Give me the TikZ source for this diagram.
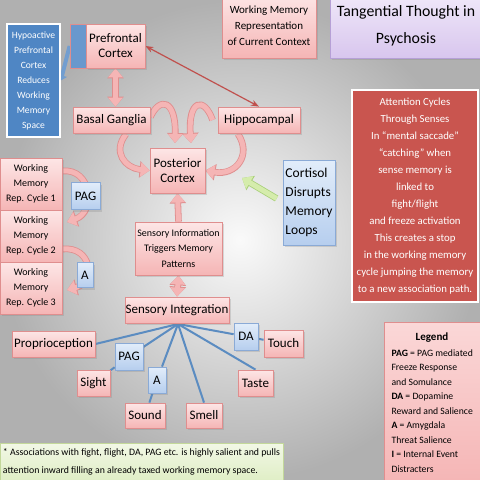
\documentclass[tikz,border=0pt]{standalone}
\usepackage{fontspec}
\setmainfont{Carlito}
\usetikzlibrary{arrows.meta,shadows}

\definecolor{pinkA}{HTML}{FDE6E6}
\definecolor{pinkB}{HTML}{F5B5B5}
\definecolor{pinkbd}{HTML}{DF8E8E}
\definecolor{blueA}{HTML}{E2EDFA}
\definecolor{blueB}{HTML}{B6CEEE}
\definecolor{bluebd}{HTML}{8AAAD6}
\definecolor{deepblue}{HTML}{4F86C4}
\definecolor{redbox}{HTML}{C9554F}
\definecolor{lilacA}{HTML}{F0E8F9}
\definecolor{lilacB}{HTML}{D8C6EE}
\definecolor{lilacbd}{HTML}{B6A0D6}
\definecolor{greenA}{HTML}{F2F8E6}
\definecolor{greenB}{HTML}{E0EEC6}
\definecolor{greenbd}{HTML}{C3D89A}
\definecolor{linkblue}{HTML}{5B8CC1}
\definecolor{redline}{HTML}{C0504D}
\definecolor{cortgreen}{HTML}{D5ECAC}
\definecolor{cortgreenbd}{HTML}{A9D07A}

\pgfdeclarelayer{bg}
\pgfdeclarelayer{links}
\pgfsetlayers{bg,links,main}

\begin{document}
\begin{tikzpicture}[x=1pt, y=-1pt,
  pinkbox/.style={draw=pinkbd, line width=0.8pt, top color=pinkA, bottom color=pinkB,
    align=center, inner sep=0pt, font=\fontsize{13}{15}\selectfont, drop shadow={opacity=0.25}},
  smallpink/.style={pinkbox, font=\fontsize{10}{15}\selectfont},
  bluebox/.style={draw=bluebd, line width=0.8pt, top color=blueA, bottom color=blueB,
    align=center, inner sep=0pt, font=\fontsize{13}{15}\selectfont, drop shadow={opacity=0.25}},
  whitetext/.style={draw=white, line width=1.6pt, text=white, align=center, inner sep=0pt},
  fatarr/.style={line width=5pt, draw=pinkB, -{Triangle[length=9pt,width=14pt]},
    preaction={draw=pinkbd, line width=6.6pt, -{Triangle[length=10pt,width=16pt]}}},
  fatboth/.style={line width=5pt, draw=pinkB, {Triangle[length=9pt,width=14pt]}-{Triangle[length=9pt,width=14pt]},
    preaction={draw=pinkbd, line width=6.6pt, {Triangle[length=10pt,width=16pt]}-{Triangle[length=10pt,width=16pt]}}},
  link/.style={draw=linkblue, line width=2pt}
]
% background
\begin{pgfonlayer}{bg}
\shade[inner color=gray!4, outer color=gray!62] (0,0) rectangle (480,480);
\end{pgfonlayer}
\useasboundingbox (0,0) rectangle (480,480);

% top row
\node[whitetext, fill=deepblue, minimum width=53, minimum height=113,
  font=\fontsize{9.6}{15}\selectfont] (hypo) at (33.5,80.5)
  {Hypoactive\\Prefrontal\\Cortex\\Reduces\\Working\\Memory\\Space};
\node[pinkbox, minimum width=59, minimum height=44] (pfc) at (115.5,46) {Prefrontal\\Cortex};
\node[draw=pinkbd, line width=0.8pt, fill=deepblue!85, minimum width=16, minimum height=44,
  inner sep=0pt] (pfcbar) at (78,46) {};
\node[pinkbox, minimum width=94, minimum height=64, font=\fontsize{11}{16}\selectfont] (wmctx) at (269,26)
  {Working Memory\\Representation\\of Current Context};
\node[draw=lilacbd, line width=0.8pt, top color=lilacA, bottom color=lilacB, align=center,
  inner sep=0pt, minimum width=152, minimum height=64, font=\fontsize{15.8}{27}\selectfont,
  drop shadow={opacity=0.25}] (title) at (406,26) {Tangential Thought in\\Psychosis};

% brain regions
\node[pinkbox, minimum width=77, minimum height=26] (basal) at (111.5,120) {Basal Ganglia};
\node[pinkbox, minimum width=82, minimum height=26] (hippo) at (259,120) {Hippocampal};
\node[pinkbox, minimum width=55, minimum height=45] (post) at (177.5,170.5) {Posterior\\Cortex};
\node[bluebox, minimum width=52, minimum height=85, font=\fontsize{13.5}{19}\selectfont,
  align=left] (cortisol) at (309,202.5) {Cortisol\\Disrupts\\Memory\\Loops};
\node[whitetext, fill=redbox, line width=1.2pt, minimum width=126, minimum height=212,
  font=\fontsize{10.8}{17}\selectfont] (attn) at (415,196)
  {Attention Cycles\\Through Senses\\In “mental saccade”\\“catching” when\\sense memory is\\linked to\\fight/flight\\and freeze activation\\This creates a stop\\in the working memory\\cycle jumping the memory\\to a new association path.};

% working memory cycles
\node[smallpink, minimum width=62, minimum height=52] (cyc1) at (31,184) {Working\\Memory\\Rep. Cycle 1};
\node[smallpink, minimum width=62, minimum height=52] (cyc2) at (31,236) {Working\\Memory\\Rep. Cycle 2};
\node[smallpink, minimum width=62, minimum height=52] (cyc3) at (31,288) {Working\\Memory\\Rep. Cycle 3};
\node[bluebox, minimum width=29, minimum height=27] (pag1) at (85.5,196) {PAG};
\node[bluebox, minimum width=16, minimum height=25] (a1) at (85,275) {A};

% sensory part
\node[pinkbox, minimum width=87, minimum height=53, font=\fontsize{10}{15.5}\selectfont] (sensinfo) at (178.5,248.5)
  {Sensory Information\\Triggers Memory\\Patterns};
\node[pinkbox, minimum width=104, minimum height=26] (sensint) at (177,310) {Sensory Integration};
\coordinate (hub) at (178,324);
\node[pinkbox, minimum width=83, minimum height=26] (proprio) at (53.5,344) {Proprioception};
\node[bluebox, minimum width=28, minimum height=27] (pag2) at (129,356.5) {PAG};
\node[pinkbox, minimum width=33, minimum height=26] (sight) at (93.5,383) {Sight};
\node[bluebox, minimum width=18, minimum height=26] (a2) at (157,380) {A};
\node[pinkbox, minimum width=40, minimum height=25] (sound) at (145,415.5) {Sound};
\node[pinkbox, minimum width=36, minimum height=25] (smell) at (204,415.5) {Smell};
\node[pinkbox, minimum width=35, minimum height=26] (taste) at (255.5,383) {Taste};
\node[bluebox, minimum width=24, minimum height=27] (da) at (246,336.5) {DA};
\node[pinkbox, minimum width=39, minimum height=27] (touch) at (283.5,343.5) {Touch};

% notes
\node[draw=greenbd, line width=0.8pt, top color=greenA, bottom color=greenB, align=left,
  inner sep=0pt, minimum width=283, minimum height=37, font=\fontsize{9.8}{18}\selectfont] (note) at (141.5,461.5)
  {* Associations with fight, flight, DA, PAG etc. is highly salient and pulls\\attention inward filling an already taxed working memory space.};
\node[draw=pinkbd, line width=0.8pt, top color=pinkA!70!pinkB, bottom color=pinkB, inner sep=0pt,
  minimum width=96, minimum height=163, drop shadow={opacity=0.25}] (legend) at (432,403.5) {};
\node[align=left, font=\fontsize{9.7}{14.5}\selectfont, anchor=north west] (legtext) at (388,346)
  {\textbf{PAG} = PAG mediated\\Freeze Response\\and Somulance\\\textbf{DA} = Dopamine\\Reward and Salience\\\textbf{A} = Amygdala\\Threat Salience\\\textbf{I} = Internal Event\\Distracters};
\node[font=\fontsize{11}{13}\bfseries] (legtitle) at (432,338) {Legend};

% connectors, kept under the boxes
\begin{pgfonlayer}{links}
\draw[fatboth] (pfc.south) -- (basal.north -| pfc.south);
\draw[fatarr] (sensinfo.north) -- (post.south);
\draw[fatboth] (sensinfo.south) -- (sensint.north);
\draw[fatarr] (basal.east) ++(0,-3) .. controls (160,96) and (176,100) .. (175,143);
\draw[fatarr] (hippo.west) ++(-5,0) .. controls (204,96) and (188,100) .. (191,143);
\draw[fatarr] (126,134) .. controls (112,152) and (125,168) .. (post.west);
\draw[fatarr] (238,134) .. controls (252,155) and (236,176) .. (post.east);
\draw[fatarr] (cyc1.east) ++(0,-13) .. controls (92,168) and (96,212) .. (67,222);
\draw[fatarr] (cyc2.east) ++(0,13) .. controls (92,246) and (96,282) .. (67,290);
\draw[line width=5pt, draw=cortgreen, -{Triangle[length=9pt,width=14pt]},
  preaction={draw=cortgreenbd, line width=6.6pt, -{Triangle[length=10pt,width=16pt]}}]
  (cortisol.west) ++(-6,-4) -- (242,178);
\draw[line width=4pt, draw=deepblue!80, -{Triangle[length=5pt,width=10pt]}] (pfcbar.west) -- (hypo.east);
\draw[redline, line width=1.2pt, {Stealth[length=8pt]}-{Stealth[length=8pt]}] (pfc.east) -- (hippo.north);
% sense links
\draw[link] (hub) -- (proprio.east);
\draw[link] (hub) -- (smell.north);
\draw[link] (hub) -- (taste.north);
\draw[link] (hub) -- (da);
\draw[link] (hub) -- (pag2);
\draw[link] (hub) -- (a2);
\draw[link] (pag2) -- (sight);
\draw[link] (a2) -- (sound);
\draw[link] (da) -- (touch);
\end{pgfonlayer}
\end{tikzpicture}
\end{document}
